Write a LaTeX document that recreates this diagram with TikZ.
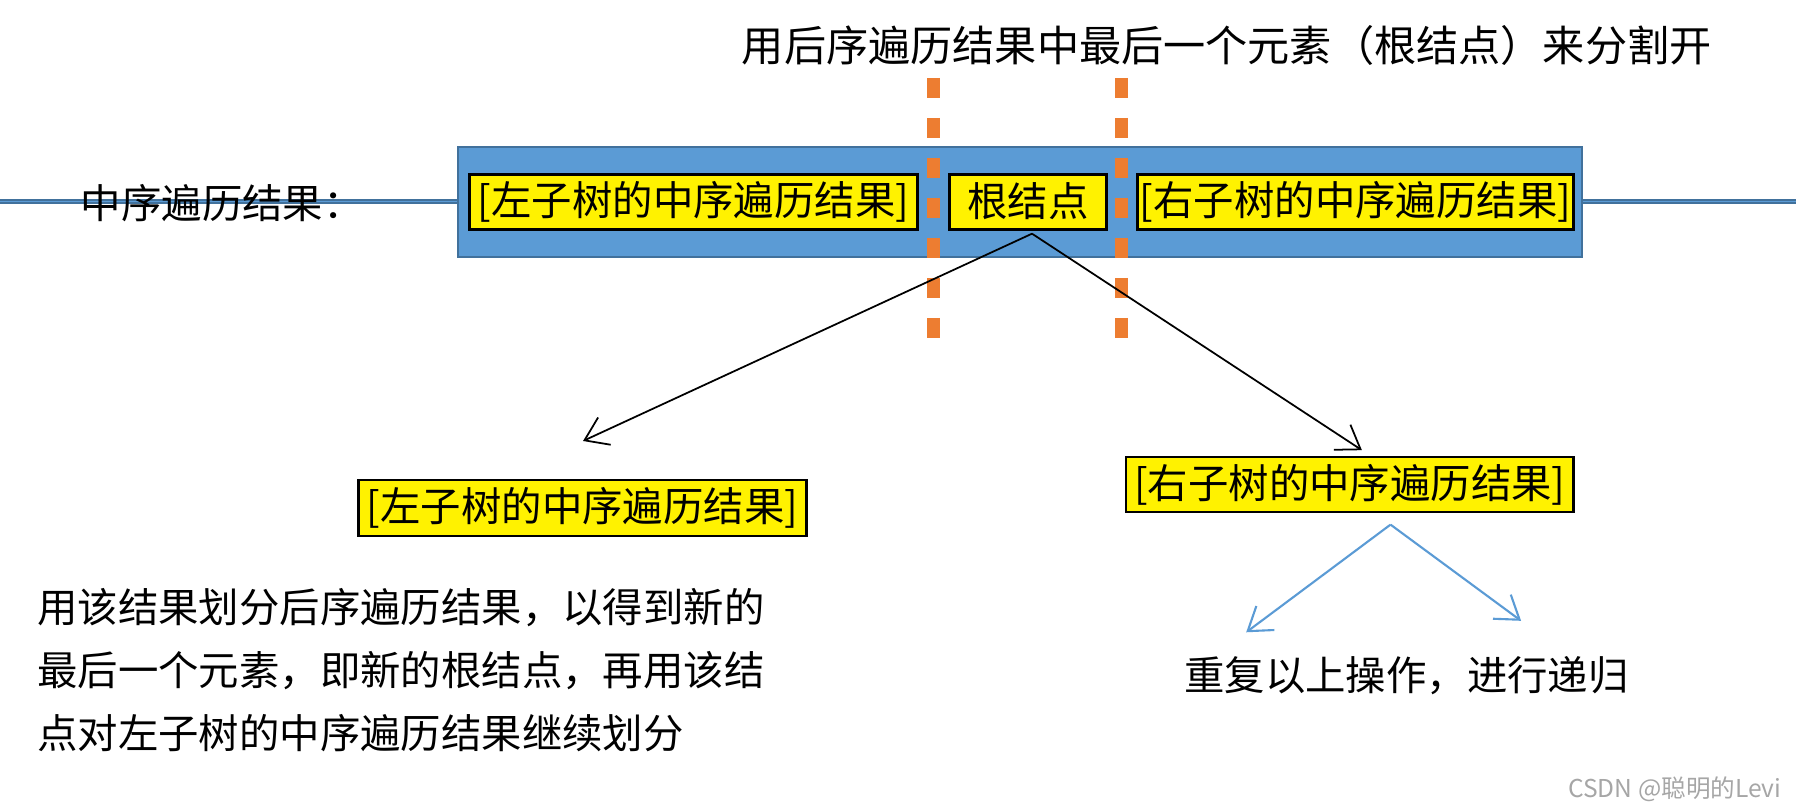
\documentclass[tikz,border=0pt]{standalone}
\usepackage{fontspec}
\setmainfont{Noto Sans CJK SC}
\usetikzlibrary{arrows.meta}
\definecolor{bluefill}{HTML}{5B9BD5}
\definecolor{blueedge}{HTML}{41719C}
\definecolor{orangeline}{HTML}{ED7D31}
\begin{document}
\begin{tikzpicture}[x=0.011454cm,y=-0.011454cm,
  ybox/.style={draw=black,line width=0.8pt,fill=yellow,inner sep=0pt,font=\fontsize{11.5pt}{13pt}\selectfont},
  txt/.style={font=\fontsize{11.5pt}{15pt}\selectfont,inner sep=0pt},
  dashline/.style={orangeline,line width=1.3mm,dash pattern=on 2mm off 2mm},
  blackarrow/.style={black,line width=0.5pt,-{Straight Barb[length=2.2mm,width=3mm]}},
  bluearrow/.style={bluefill,line width=0.6pt,-{Straight Barb[length=2.2mm,width=3mm]}}]
\useasboundingbox (0,0) rectangle (1568,705);
\node[draw=blueedge,line width=0.6pt,fill=bluefill,minimum width=981\pgflinewidth,inner sep=0pt] (band) at (890.5,176) {};
\path[draw=blueedge,line width=0.6pt,fill=bluefill] (400,128) rectangle (1381,224);
\node[ybox,minimum width=391*0.011454cm,minimum height=48*0.011454cm] (l1) at (605.5,176) {[左子树的中序遍历结果]};
\node[ybox,minimum width=137*0.011454cm,minimum height=48*0.011454cm] (root) at (897.5,176) {根结点\hspace{0.6em}};
\node[ybox,minimum width=381*0.011454cm,minimum height=48*0.011454cm] (r1) at (1183.5,176) {[右子树的中序遍历结果]};
\node[txt,anchor=west] (lab) at (70,177) {中序遍历结果：};
\node[txt,font=\fontsize{12pt}{14pt}\selectfont] (title) at (1071,40) {用后序遍历结果中最后一个元素（根结点）来分割开};
\coordinate (d1a) at (815,68); \coordinate (d1b) at (815,308);
\coordinate (d2a) at (979,68); \coordinate (d2b) at (979,308);
\draw[dashline] (d1a) -- (d1b);
\draw[dashline] (d2a) -- (d2b);
\node[ybox,minimum width=391*0.011454cm,minimum height=49*0.011454cm] (l2) at (508.5,443.5) {[左子树的中序遍历结果]};
\node[ybox,minimum width=391*0.011454cm,minimum height=48*0.011454cm] (r2) at (1178.5,423) {[右子树的中序遍历结果]};
\coordinate (start) at (901,204);
\coordinate (lend) at (509,385);
\coordinate (rend) at (1189,393);
\draw[blackarrow] (start) -- (lend);
\draw[blackarrow] (start) -- (rend);
\coordinate (bstart) at (1214,458);
\coordinate (bl) at (1088,552);
\coordinate (br) at (1328,542);
\draw[bluearrow] (bstart) -- (bl);
\draw[bluearrow] (bstart) -- (br);
\node[txt] (rep) at (1228,590) {重复以上操作，进行递归};
\node[txt,anchor=north west,align=left] (desc) at (32,513) {用该结果划分后序遍历结果，以得到新的\\[3pt]最后一个元素，即新的根结点，再用该结\\[3pt]点对左子树的中序遍历结果继续划分};
\node[anchor=east,text=gray!70,font=\fontsize{7pt}{8pt}\selectfont,inner sep=0pt] (wm) at (1556,689) {CSDN @聪明的Levi};
\end{tikzpicture}
\end{document}
